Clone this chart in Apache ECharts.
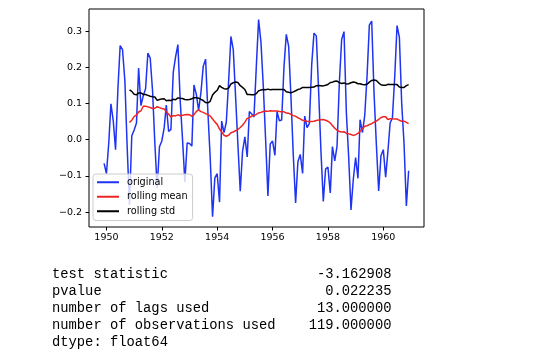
<!DOCTYPE html>
<html>
<head>
<meta charset="utf-8">
<script src="https://cdn.jsdelivr.net/npm/echarts@6/dist/echarts.min.js"></script>
<style>
html,body{margin:0;padding:0;background:#fff;}
#c{width:534px;height:364px;}
</style>
</head>
<body>
<div id="c"></div>
<script>
// monthly series starting 1949-12
const startYear = 1949, startMonth = 12;
const original = [-0.0655,
-0.0935,-0.0076,0.0994,0.0522,-0.0276,0.1398,0.2602,0.2486,0.1629,-0.0185,-0.1804,0.0108,
0.0266,0.0459,0.1977,0.0940,0.1211,0.1406,0.2390,0.2258,0.1347,-0.0090,-0.1336,-0.0194,
-0.0035,0.0326,0.0956,0.0227,0.0285,0.1866,0.2282,0.2627,0.1054,0.0017,-0.1168,-0.0093,
-0.0105,-0.0176,0.1513,0.1254,0.0808,0.1311,0.2026,0.2226,0.0744,-0.0501,-0.2128,-0.1054,
-0.0939,-0.1722,0.0514,0.0197,0.0482,0.1620,0.2852,0.2488,0.1180,-0.0120,-0.1425,-0.0328,
0.0081,-0.0477,0.0779,0.0713,0.0631,0.2025,0.3316,0.2696,0.1478,0.0029,-0.1550,-0.0117,
-0.0036,-0.0430,0.0776,0.0523,0.0545,0.2024,0.2910,0.2586,0.1160,-0.0417,-0.1743,-0.0608,
-0.0405,-0.0929,0.0652,0.0337,0.0444,0.2073,0.2944,0.2868,0.1312,-0.0314,-0.1703,-0.0813,
-0.0757,-0.1472,-0.0191,-0.0585,-0.0182,0.1602,0.2768,0.2985,0.0753,-0.0457,-0.1937,-0.1105,
-0.0492,-0.1066,0.0553,0.0197,0.0664,0.1763,0.3165,0.3278,0.1280,-0.0113,-0.1414,-0.0445,
-0.0275,-0.1031,-0.0365,0.0463,0.0602,0.1751,0.3151,0.2824,0.0982,-0.0092,-0.1827,-0.0858];

// rolling window (12) series start at the 12th month (1950-11)
const rollingOffset = 11;
const rollingMean = [0.0475,0.0539,0.0639,0.0683,0.0765,0.0800,0.0924,0.0925,0.0907,0.0888,0.0864,0.0872,0.0911,
0.0886,0.0861,0.0850,0.0765,0.0706,0.0628,0.0667,0.0658,0.0688,0.0664,0.0673,0.0687,
0.0695,0.0690,0.0648,0.0694,0.0780,0.0823,0.0777,0.0756,0.0722,0.0696,0.0653,0.0573,
0.0493,0.0424,0.0295,0.0212,0.0124,0.0096,0.0122,0.0191,0.0213,0.0249,0.0281,0.0339,
0.0400,0.0485,0.0589,0.0611,0.0654,0.0666,0.0700,0.0739,0.0756,0.0781,0.0793,0.0783,
0.0800,0.0791,0.0795,0.0794,0.0778,0.0771,0.0771,0.0737,0.0728,0.0702,0.0665,0.0648,
0.0608,0.0577,0.0535,0.0525,0.0509,0.0501,0.0505,0.0508,0.0531,0.0544,0.0553,0.0556,
0.0539,0.0510,0.0464,0.0394,0.0317,0.0265,0.0226,0.0211,0.0221,0.0174,0.0162,0.0143,
0.0119,0.0141,0.0174,0.0236,0.0302,0.0372,0.0386,0.0419,0.0443,0.0487,0.0516,0.0559,
0.0614,0.0632,0.0635,0.0559,0.0581,0.0576,0.0575,0.0574,0.0536,0.0511,0.0513,0.0478,0.0444];
const rollingStd = [0.1375,0.1335,0.1257,0.1239,0.1292,0.1291,0.1249,0.1249,0.1225,0.1199,0.1186,0.1179,0.1086,
0.1110,0.1128,0.1133,0.1078,0.1087,0.1081,0.1118,0.1104,0.1156,0.1144,0.1138,0.1112,
0.1105,0.1109,0.1133,0.1158,0.1159,0.1148,0.1113,0.1083,0.1025,0.1020,0.1061,0.1233,
0.1309,0.1365,0.1494,0.1447,0.1409,0.1398,0.1425,0.1540,0.1573,0.1592,0.1579,0.1492,
0.1445,0.1388,0.1247,0.1248,0.1241,0.1240,0.1273,0.1350,0.1375,0.1386,0.1378,0.1397,
0.1383,0.1389,0.1385,0.1385,0.1387,0.1388,0.1388,0.1324,0.1309,0.1296,0.1323,0.1353,
0.1385,0.1405,0.1444,0.1443,0.1444,0.1444,0.1449,0.1454,0.1492,0.1499,0.1493,0.1487,
0.1503,0.1526,0.1580,0.1590,0.1615,0.1620,0.1578,0.1551,0.1569,0.1542,0.1547,0.1573,
0.1592,0.1580,0.1547,0.1546,0.1524,0.1519,0.1532,0.1591,0.1636,0.1652,0.1637,0.1571,
0.1518,0.1505,0.1502,0.1529,0.1525,0.1525,0.1524,0.1522,0.1453,0.1442,0.1441,0.1495,0.1523];

const xTicks = [1950,1952,1954,1956,1958,1960];
const yTicks = [-0.2,-0.1,0.0,0.1,0.2,0.3];
const seriesNames = ['original','rolling mean','rolling std'];
const statNames = ['test statistic','pvalue','number of lags used','number of observations used'];
const statValues = ['-3.162908','0.022235','13.000000','119.000000'];
const dtypeLine = 'dtype: float64';

// month index -> decimal year position (date axis)
function monthX(i){
  const m = (startMonth - 1) + i;
  const y = startYear + Math.floor(m / 12);
  const mm = m % 12;
  const daysBefore = [0,31,59,90,120,151,181,212,243,273,304,334][mm];
  return y + daysBefore / 365;
}
const origData = original.map((v,i)=>[monthX(i), v]);
const meanData = rollingMean.map((v,i)=>[monthX(i+rollingOffset), v]);
const stdData = rollingStd.map((v,i)=>[monthX(i+rollingOffset), v]);

const idxW = Math.max(...statNames.map(s=>s.length));
const valW = Math.max(...statValues.map(s=>s.length));
const lines = statNames.map((n,i)=> n.padEnd(idxW,' ') + '    ' + statValues[i].padStart(valW,' '));
lines.push(dtypeLine);

const minus = s => s.replace('-', '\u2212');
const chart = echarts.init(document.getElementById('c'), null, {renderer:'canvas'});
chart.setOption({
  animation:false,
  backgroundColor:'#fff',
  grid:{left:89, top:9, width:335, height:218, show:true, borderColor:'#000', borderWidth:1, backgroundColor:'transparent'},
  xAxis:{type:'value', min:1949.37, max:1961.47,
    axisLine:{show:false, onZero:false}, splitLine:{show:false},
    axisTick:{show:true, length:3.5, lineStyle:{color:'#000'}, customValues:xTicks},
    axisLabel:{fontFamily:'DejaVu Sans', fontSize:9.5, color:'#000', margin:6, customValues:xTicks, formatter:v=>String(Math.round(v))}
  },
  yAxis:{type:'value', min:-0.241, max:0.361,
    axisLine:{show:false, onZero:false}, splitLine:{show:false},
    axisTick:{show:true, length:3.5, lineStyle:{color:'#000'}, customValues:yTicks},
    axisLabel:{fontFamily:'DejaVu Sans', fontSize:9.5, color:'#000', margin:7, customValues:yTicks, formatter:v=>minus(v.toFixed(1))}
  },
  legend:{
    data:seriesNames, orient:'vertical', left:93, top:174,
    icon:'rect', itemWidth:22, itemHeight:2, itemGap:2,
    padding:[2,5,3,4],
    backgroundColor:'rgba(255,255,255,0.8)', borderColor:'#ccc', borderWidth:1, borderRadius:3,
    textStyle:{fontFamily:'DejaVu Sans', fontSize:9.7, color:'#000', lineHeight:12.5, padding:[0,0,0,3]}
  },
  series:[
    {name:seriesNames[0], type:'line', data:origData, symbol:'none', lineStyle:{color:'#1f33f2', width:1.5}, itemStyle:{color:'#1f33f2'}},
    {name:seriesNames[1], type:'line', data:meanData, symbol:'none', lineStyle:{color:'#f02424', width:1.5}, itemStyle:{color:'#f02424'}},
    {name:seriesNames[2], type:'line', data:stdData, symbol:'none', lineStyle:{color:'#000', width:1.5}, itemStyle:{color:'#000'}}
  ],
  graphic:[{
    type:'text', left:52, top:265.5,
    style:{text:lines.join('\n'), font:'13.8px "Courier New", "Liberation Mono", monospace', fill:'#000', lineHeight:17.1}
  }]
});
</script>
</body>
</html>
